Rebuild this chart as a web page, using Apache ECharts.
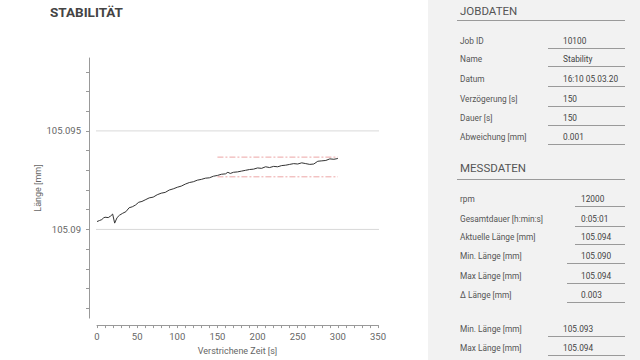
<!DOCTYPE html>
<html>
<head>
<meta charset="utf-8">
<script src="https://cdn.jsdelivr.net/npm/echarts@6/dist/echarts.min.js"></script>
<style>html,body{margin:0;padding:0;background:#fff}#c{width:640px;height:360px}</style>
</head>
<body>
<div id="c"></div>
<script>
// ---- data ----
const timeS = [0,3,6,8,10,14,17,19.5,22,25,28,32,36,40,44,48,52,56,60,65,70,75,80,85,90,95,100,105,110,115,120,125,130,135,140,145,150,155,160,163,166,170,175,180,185,190,195,200,205,210,215,220,225,230,235,240,245,250,255,260,265,270,275,280,285,290,295,300];
const laenge = [105.09040,105.09045,105.09050,105.09058,105.09062,105.09060,105.09068,105.09078,105.09032,105.09060,105.09072,105.09082,105.09090,105.09110,105.09115,105.09124,105.09138,105.09142,105.09150,105.09160,105.09164,105.09176,105.09184,105.09188,105.09200,105.09206,105.09214,105.09220,105.09230,105.09238,105.09242,105.09250,105.09254,105.09260,105.09262,105.09270,105.09274,105.09280,105.09282,105.09290,105.09284,105.09290,105.09292,105.09296,105.09300,105.09304,105.09306,105.09312,105.09310,105.09318,105.09314,105.09320,105.09318,105.09324,105.09326,105.09330,105.09334,105.09332,105.09338,105.09334,105.09330,105.09332,105.09346,105.09348,105.09350,105.09358,105.09356,105.09360];
const bandTime = [150, 300];
const bandUpper = [105.09367, 105.09367];
const bandLower = [105.09267, 105.09267];
const gridValues = [105.09, 105.095];
const gridSpan = [-5, 359];
const yLabelValues = [105.09, 105.095];
const yTickValues = [105.086,105.087,105.088,105.089,105.09,105.091,105.092,105.093,105.094,105.095,105.096,105.097,105.098];
const xLabelValues = [0,50,100,150,200,250,300,350];
const xTickValues = [0,10,20,30,40,50,60,70,80,90,100,110,120,130,140,150,160,170,180,190,200,210,220,230,240,250,260,270,280,290,300,310,320,330,340,350];

const jobLabels = ['Job ID','Name','Datum','Verzögerung [s]','Dauer [s]','Abweichung [mm]'];
const jobValues = ['10100','Stability','16:10 05.03.20','150','150','0.001'];
const messLabels = ['rpm','Gesamtdauer [h:min:s]','Aktuelle Länge [mm]','Min. Länge [mm]','Max Länge [mm]','Δ Länge [mm]'];
const messValues = ['12000','0:05:01','105.094','105.090','105.094','0.003'];
const extraLabels = ['Min. Länge [mm]','Max Länge [mm]'];
const extraValues = ['105.093','105.094'];

// ---- build ----
const FONT = 'Roboto';
const pair = (xs, ys) => xs.map((x, i) => [x, ys[i]]);
const g = [];
g.push({type:'rect', shape:{x:428,y:0,width:212,height:360}, style:{fill:'#f2f2f2'}, z:0});
function txt(x, y, s, size, color, weight) {
  g.push({type:'text', x:x, y:y, z:2, style:{text:s, fill:color, fontSize:size, fontFamily:FONT, fontWeight:weight||'normal', verticalAlign:'middle', align:'left'}});
}
function ln(x1, x2, y) {
  g.push({type:'line', z:2, shape:{x1:x1,y1:y,x2:x2,y2:y}, style:{stroke:'#9a9a9a', lineWidth:1}});
}
txt(460, 11, 'JOBDATEN', 11.5, '#555');
ln(457, 625, 20.5);
const jobY = [40.7,59.3,79,99,117.7,137];
jobLabels.forEach((l, i) => { txt(460, jobY[i], l, 8.3, '#555'); txt(563, jobY[i], jobValues[i], 8.3, '#444'); ln(548, 625, Math.round(jobY[i] + 7) + 0.5); });
txt(460, 168, 'MESSDATEN', 11.5, '#555');
ln(457, 625, 179.5);
const messY = [199,218.7,237.3,256,275.7,295];
messLabels.forEach((l, i) => { txt(460, messY[i], l, 8.3, '#555'); txt(581, messY[i], messValues[i], 8.3, '#444'); ln(i < 3 ? 575 : 567, 625, Math.round(messY[i] + 7) + 0.5); });
const extraY = [329,348.3];
extraLabels.forEach((l, i) => { txt(460, extraY[i], l, 8.3, '#555'); txt(563, extraY[i], extraValues[i], 8.3, '#444'); ln(548, 625, Math.round(extraY[i] + 7) + 0.5); });

const chart = echarts.init(document.getElementById('c'), null, {renderer:'svg'});
const bandStyle = {color:'#eca6a6', width:1, type:[6,2,2,2]};
const gridSeries = gridValues.map(v => ({
  type:'line', data:pair(gridSpan, [v, v]), symbol:'none', clip:false, silent:true,
  lineStyle:{color:'#d9d9d9', width:1}, z:1
}));
chart.setOption({
  animation:false,
  backgroundColor:'#fff',
  title:{text:'STABILITÄT', left:45, top:0, textStyle:{fontFamily:FONT, fontSize:13.5, fontWeight:'bold', color:'#444'}},
  grid:{left:97, right:262, top:58, bottom:41},
  xAxis:{type:'value', min:0, max:350, offset:7,
    name:'Verstrichene Zeit [s]', nameLocation:'middle', nameGap:20,
    nameTextStyle:{fontFamily:FONT, fontSize:9, color:'#666'},
    axisLine:{show:true, onZero:false, lineStyle:{color:'#999'}},
    axisTick:{show:true, length:3, customValues:xTickValues, lineStyle:{color:'#999'}},
    axisLabel:{customValues:xLabelValues, fontFamily:FONT, fontSize:9.5, color:'#666', margin:6},
    splitLine:{show:false}},
  yAxis:{type:'value', min:105.0855, max:105.0987, offset:8,
    name:'Länge [mm]', nameLocation:'middle', nameGap:38,
    nameTextStyle:{fontFamily:FONT, fontSize:9, color:'#666'},
    axisLine:{show:true, onZero:false, lineStyle:{color:'#999'}},
    axisTick:{show:true, length:3, customValues:yTickValues, lineStyle:{color:'#999'}},
    axisLabel:{customValues:yLabelValues, fontFamily:FONT, fontSize:9.5, color:'#666', margin:8,
      formatter:v => String(parseFloat(v.toFixed(4)))},
    splitLine:{show:false}},
  series:[
    ...gridSeries,
    {type:'line', data:pair(bandTime, bandUpper), symbol:'none', lineStyle:bandStyle, z:2},
    {type:'line', data:pair(bandTime, bandLower), symbol:'none', lineStyle:bandStyle, z:2},
    {type:'line', data:pair(timeS, laenge), symbol:'none', lineStyle:{color:'#333', width:1}, z:3}
  ],
  graphic:g
});
</script>
</body>
</html>
